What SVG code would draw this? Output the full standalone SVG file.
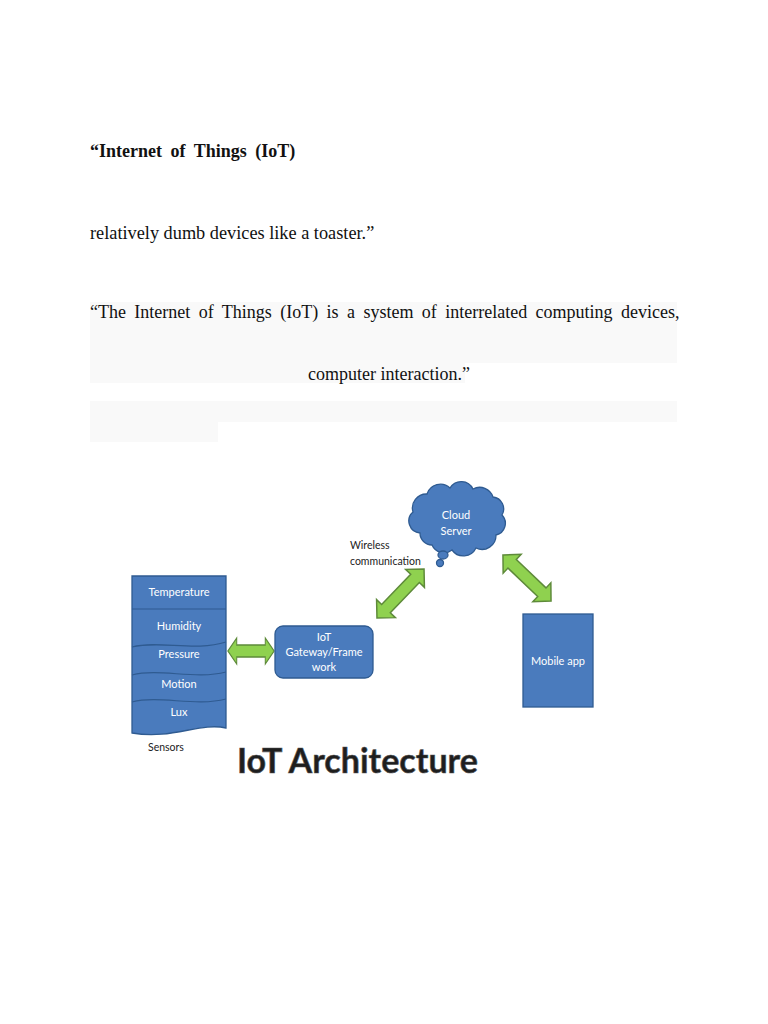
<svg xmlns="http://www.w3.org/2000/svg" width="768" height="1024" viewBox="0 0 768 1024">
<defs>
<style>
.serif{font-family:"Liberation Serif","Times New Roman",serif;fill:#111;}
.lbl{font-family:Lato,"Open Sans","Liberation Sans",sans-serif;font-size:11px;fill:#ffffff;text-anchor:middle;}
.dark{font-family:Lato,"Open Sans","Liberation Sans",sans-serif;font-size:10.5px;fill:#222;}
.blue{fill:#4a7bbd;stroke:#2f5b91;stroke-width:1.3;}
.sep{fill:none;stroke:#2f5b91;stroke-width:1.2;}
.arrow{fill:#8fd14f;stroke:#5e8a3a;stroke-width:1.5;stroke-linejoin:miter;}
.band{fill:#f9f9f9;}
</style>
<path id="dbl" d="M -34 0 L -21 -13 L -21 -6 L 21 -6 L 21 -13 L 34 0 L 21 13 L 21 6 L -21 6 L -21 13 Z"/>
</defs>
<rect width="768" height="1024" fill="#ffffff"/>

<g id="text-block">
<rect class="band" x="90" y="302" width="587" height="61"/>
<rect class="band" x="90" y="363" width="375" height="20"/>
<rect class="band" x="90" y="401" width="587" height="21"/>
<rect class="band" x="90" y="422" width="128" height="20"/>
<text class="serif" x="90" y="157" font-size="18" font-weight="bold" word-spacing="4">“Internet of Things (IoT)</text>
<text class="serif" x="90" y="239" font-size="18.3">relatively dumb devices like a toaster.”</text>
<text class="serif" x="90" y="318" font-size="18" word-spacing="3.9">“The Internet of Things (IoT) is a system of interrelated computing devices,</text>
<text class="serif" x="308" y="380" font-size="18">computer interaction.”</text>
</g>

<g id="connectors">
<use href="#dbl" class="arrow" transform="translate(251 651) scale(0.68 1)"/>
<use href="#dbl" class="arrow" transform="translate(400.5 593.5) rotate(-46.2) scale(1 1)"/>
<use href="#dbl" class="arrow" transform="translate(527 578) rotate(43.8) scale(0.98 1)"/>
</g>

<g id="sensors">
<path class="blue" d="M 132 576 L 226 576 L 226 728 C 200 722, 172 740, 132 733 Z"/>
<line class="sep" x1="132" y1="609" x2="226" y2="609"/>
<path class="sep" d="M 132 647 C 160 640, 195 652, 226 642"/>
<path class="sep" d="M 132 675 C 160 668, 195 680, 226 672"/>
<path class="sep" d="M 132 702 C 160 695, 195 707, 226 699"/>
<text class="lbl" x="179" y="596">Temperature</text>
<text class="lbl" x="179" y="630">Humidity</text>
<text class="lbl" x="179" y="658">Pressure</text>
<text class="lbl" x="179" y="688">Motion</text>
<text class="lbl" x="179" y="716">Lux</text>
<text class="dark" x="148" y="751" font-size="10">Sensors</text>
</g>

<g id="gateway">
<rect class="blue" x="275" y="626" width="98" height="52" rx="8"/>
<text class="lbl" x="324" y="641">IoT</text>
<text class="lbl" x="324" y="656">Gateway/Frame</text>
<text class="lbl" x="324" y="671">work</text>
</g>

<g id="cloud">
<path class="blue" d="M 420 533 A 12 12 0 0 1 413 512 A 14 14 0 0 1 427 494 A 14 14 0 0 1 450 488 A 13 13 0 0 1 473 489 A 14 14 0 0 1 493 497 A 12 12 0 0 1 502 515 A 12 12 0 0 1 496 535 A 14 14 0 0 1 476 548 A 14 14 0 0 1 452 550 A 13 13 0 0 1 432 545 A 12 12 0 0 1 420 533 Z"/>
<ellipse class="blue" cx="443" cy="555" rx="5" ry="4"/>
<ellipse class="blue" cx="440" cy="563" rx="3.5" ry="3.5"/>
<text class="lbl" x="456" y="519">Cloud</text>
<text class="lbl" x="456" y="535">Server</text>
</g>

<g id="wireless-label">
<text class="dark" x="350" y="549">Wireless</text>
<text class="dark" x="350" y="565">communication</text>
</g>

<g id="mobile">
<rect class="blue" x="523" y="614" width="70" height="93"/>
<text class="lbl" x="558" y="665">Mobile app</text>
</g>

<g id="title">
<text x="237" y="773" font-family="Lato,'Open Sans','Liberation Sans',sans-serif" font-size="35" font-weight="bold" fill="#1e1e1e" stroke="#555" stroke-width="0.6" textLength="241" lengthAdjust="spacingAndGlyphs">IoT Architecture</text>
</g>
</svg>
